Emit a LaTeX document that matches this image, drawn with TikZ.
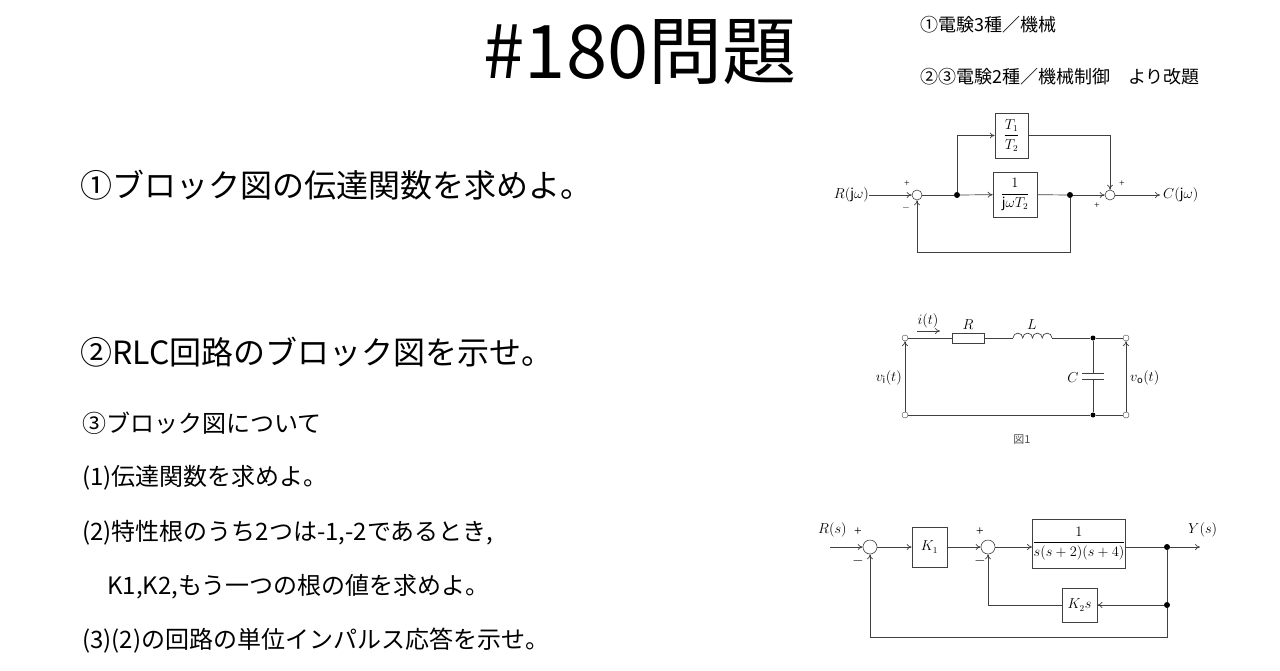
\documentclass[tikz,border=0pt]{standalone}
\usepackage{amsmath}
\usepackage{fontspec}
\setmainfont{Noto Sans CJK JP}
\newfontfamily\tm{Liberation Serif}
\usetikzlibrary{arrows.meta}
\begin{document}
\begin{tikzpicture}[x=1pt,y=-1pt,
  wire/.style={draw=black!75,line width=0.7pt},
  arr/.style={wire,-{To[length=5pt,width=6pt]}},
  blk/.style={draw=black!75,line width=0.7pt,fill=white,inner sep=0pt},
  sumc/.style={circle,draw=black!75,line width=0.6pt,fill=white,inner sep=0pt},
  dotn/.style={circle,fill=black,inner sep=0pt,minimum size=6pt},
  term/.style={circle,draw=black!75,fill=white,inner sep=0pt,minimum size=6pt},
  lbl/.style={font=\tm\fontsize{13.5}{14}\selectfont,inner sep=0pt},
  pm/.style={font=\tm\fontsize{10}{10}\selectfont,inner sep=0pt},
  jp/.style={anchor=west,inner sep=0pt}]
\useasboundingbox (0,0) rectangle (1280,670);
% texts
\node[inner sep=0pt,font=\fontsize{74}{74}\selectfont] (title) at (640,52) {\#180問題};
\node[jp,font=\fontsize{18}{18}\selectfont] (s1) at (920,25) {①電験3種／機械};
\node[jp,font=\fontsize{18}{18}\selectfont] (s2) at (920,77) {②③電験2種／機械制御　より改題};
\node[jp,font=\fontsize{32}{32}\selectfont] (q1) at (80,185) {①ブロック図の伝達関数を求めよ。};
\node[jp,font=\fontsize{32}{32}\selectfont] (q2) at (80,352) {②RLC回路のブロック図を示せ。};
\node[jp,font=\fontsize{24}{24}\selectfont] (q3) at (82,423) {③ブロック図について};
\node[jp,font=\fontsize{24}{24}\selectfont] (q31) at (82,478) {(1)伝達関数を求めよ。};
\node[jp,font=\fontsize{24}{24}\selectfont] (q32) at (82,533) {(2)特性根のうち2つは-1,-2であるとき,};
\node[jp,font=\fontsize{24}{24}\selectfont] (q33) at (107,587) {K1,K2,もう一つの根の値を求めよ。};
\node[jp,font=\fontsize{24}{24}\selectfont] (q34) at (82,641) {(3)(2)の回路の単位インパルス応答を示せ。};

% ---- diagram 1
\node[lbl,anchor=east] (R) at (869,195) {$R(\mathrm{j}\omega)$};
\node[sumc,minimum size=10pt] (a1) at (917,195) {};
\node[dotn] (d1) at (957,195) {};
\node[blk,minimum width=44pt,minimum height=45pt,lbl] (G) at (1015,194.5) {$\dfrac{1}{\mathrm{j}\omega T_2}$};
\node[blk,minimum width=33pt,minimum height=45pt,lbl] (T) at (1011.5,135.5) {$\dfrac{T_1}{T_2}$};
\node[dotn] (d2) at (1070,195) {};
\node[sumc,minimum size=10pt] (a2) at (1110,195) {};
\coordinate (out1) at (1160,195);
\node[lbl,anchor=west] (C) at (1163,195) {$C(\mathrm{j}\omega)$};
\draw[arr] (R) -- (a1);
\draw[wire] (a1) -- (d1);
\draw[arr] (d1) -- (G);
\draw[wire] (G) -- (d2);
\draw[arr] (d2) -- (a2);
\draw[arr] (a2) -- (out1);
\draw[arr] (d1) |- (T.west);
\draw[arr] (T.east) -| (a2.north);
\draw[arr] (d2) -- (1070,252) -| (a1.south);
\node[pm] (p1) at (907,184) {+};
\node[pm] (m1) at (906,208) {$-$};
\node[pm] (p2) at (1122,184) {+};
\node[pm] (p3) at (1097,206) {+};

% ---- diagram 2
\node[term] (t1) at (905,338) {};
\node[term] (t2) at (905,415) {};
\node[term] (t3) at (1126,338) {};
\node[term] (t4) at (1126,415) {};
\node[blk,minimum width=32pt,minimum height=10pt] (res) at (968,338) {};
\coordinate (l1) at (1013,338);
\coordinate (l2) at (1052,338);
\node[dotn,minimum size=5pt] (n1) at (1093,338) {};
\node[dotn,minimum size=5pt] (n2) at (1093,415) {};
\coordinate (c1) at (1093,373);
\coordinate (c2) at (1093,379);
\draw[wire] (t1) -- (res) -- (l1);
\draw[wire] (l1) \foreach \k in {0,1,2,3} { arc[start angle=180,end angle=0,radius=4.875pt] };
\draw[wire] (l2) -- (n1) -- (t3);
\draw[wire] (t2) -- (n2) -- (t4);
\draw[wire] (n1) -- (c1) (c2) -- (n2);
\draw[wire,line width=1pt] (1082,373) -- (1104,373) (1082,379) -- (1104,379);
\draw[arr] (t2) -- (t1);
\draw[arr] (t4) -- (t3);
\draw[arr] (917,331) -- (940,331);
\node[lbl] (it) at (928,321) {$i(t)$};
\node[lbl] (Rl) at (968,325) {$R$};
\node[lbl] (Ll) at (1032,325) {$L$};
\node[lbl,anchor=east] (vi) at (902,378) {$v_{\mathrm{i}}(t)$};
\node[lbl] (Cl) at (1073,378) {$C$};
\node[lbl,anchor=west] (vo) at (1130,378) {$v_{\mathrm{o}}(t)$};
\node[lbl,font=\fontsize{11}{11}\selectfont,text=black!70] (fig) at (1022,440) {図1};

% ---- diagram 3
\node[lbl,anchor=west] (Rs) at (818,530) {$R(s)$};
\coordinate (in3) at (830,547);
\node[sumc,minimum size=14pt] (b1) at (870,547) {};
\node[blk,minimum width=35pt,minimum height=40pt,lbl] (K1) at (929.5,547) {$K_1$};
\node[sumc,minimum size=14pt] (b2) at (988,547) {};
\node[blk,minimum width=92pt,minimum height=49pt,lbl] (P) at (1079,543.5) {$\dfrac{1}{s(s+2)(s+4)}$};
\node[dotn] (e1) at (1167,547) {};
\node[dotn] (e2) at (1167,605) {};
\coordinate (out3) at (1200,547);
\node[lbl,anchor=west] (Ys) at (1188,530) {$Y(s)$};
\node[blk,minimum width=35pt,minimum height=34pt,lbl] (K2) at (1079.5,605) {$K_2s$};
\draw[arr] (in3) -- (b1);
\draw[arr] (b1) -- (K1);
\draw[arr] (K1) -- (b2);
\draw[arr] (b2) -- (P.west |- b2);
\draw[wire] (P.east |- e1) -- (e1);
\draw[arr] (e1) -- (out3);
\draw[wire] (e1) -- (e2);
\draw[arr] (e2) -- (K2);
\draw[arr] (K2) -| (b2.south);
\draw[arr] (e2) -- (1167,637) -| (b1.south);
\node[lbl] (p4) at (858,532) {+};
\node[lbl] (m4) at (858,561) {$-$};
\node[lbl] (p5) at (980,532) {+};
\node[lbl] (m5) at (980,561) {$-$};
\end{tikzpicture}
\end{document}
